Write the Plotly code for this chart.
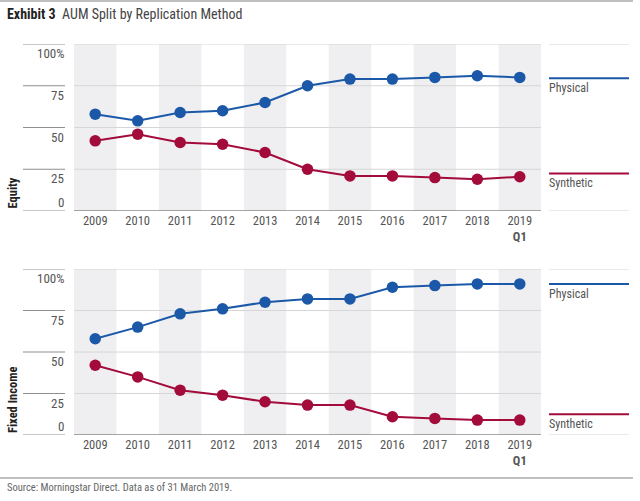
import plotly.graph_objects as go

years = ["2009", "2010", "2011", "2012", "2013", "2014", "2015", "2016", "2017", "2018", "2019"]
tick_text = ["2009", "2010", "2011", "2012", "2013", "2014", "2015", "2016", "2017", "2018", "2019<br><b>Q1</b>"]

equity_physical = [58, 54, 59, 60, 65, 75, 79, 79, 80, 81, 80]
equity_synthetic = [42, 46, 41, 40, 35, 25, 21, 21, 20, 19, 20.5]
fi_physical = [58, 65, 73, 76, 80, 82, 82, 89, 90, 91, 91]
fi_synthetic = [42, 35, 27, 24, 20, 18, 18, 11, 10, 9, 9]

y_ticks = [0, 25, 50, 75, 100]
y_tick_labels = ["0", "25", "50", "75", "100%"]

BLUE = "#1b59a8"
RED = "#a30b3b"
BAND = "#efeff1"
GRID = "#d6d6d6"
AXIS = "#8a8a8a"
TXT = "#555555"
FONT = "Roboto Condensed, Roboto, sans-serif"

W, H = 640, 501
L, R, T, B = 74, 99, 44, 66

fig = go.Figure()

panels = [
    ("y", "x", equity_physical, equity_synthetic, "Equity"),
    ("y2", "x2", fi_physical, fi_synthetic, "Fixed Income"),
]

idx = list(range(len(years)))
for yref, xref, phys, syn, name in panels:
    fig.add_trace(go.Scatter(x=idx, y=phys, mode="lines+markers", xaxis=xref, yaxis=yref,
                             line=dict(color=BLUE, width=2), marker=dict(color=BLUE, size=11.5),
                             showlegend=False, hoverinfo="skip"))
    fig.add_trace(go.Scatter(x=idx, y=syn, mode="lines+markers", xaxis=xref, yaxis=yref,
                             line=dict(color=RED, width=2), marker=dict(color=RED, size=11.5),
                             showlegend=False, hoverinfo="skip"))

shapes = []
annotations = []
plot_w = W - L - R
def px_to_paper_x(px):
    return (px - L) / plot_w

legend_y = {"y": (79.5, 22.5), "y2": (91, 12.5)}

for yref, xref, phys, syn, name in panels:
    # alternating bands
    for i in idx:
        if i % 2 == 0:
            shapes.append(dict(type="rect", xref=xref, yref=yref + " domain", x0=i - 0.5, x1=i + 0.5,
                               y0=0, y1=1, fillcolor=BAND, line_width=0, layer="below"))
    # gridlines in plot and label area
    for v in y_ticks:
        col = AXIS if v == 0 else GRID
        shapes.append(dict(type="line", xref="paper", yref=yref, x0=0, x1=1, y0=v, y1=v,
                           line=dict(color=col, width=1.3 if v == 0 else 1), layer="below"))
        shapes.append(dict(type="line", xref="paper", yref=yref, x0=px_to_paper_x(23), x1=px_to_paper_x(65),
                           y0=v, y1=v, line=dict(color="#8f8f8f", width=1.2)))
    for v, lab in zip(y_ticks, y_tick_labels):
        annotations.append(dict(xref="paper", yref=yref, x=px_to_paper_x(66), y=v, text=lab,
                                showarrow=False, xanchor="right", yanchor="middle",
                                yshift=9 if v == 0 else -9.5,
                                font=dict(family=FONT, size=13, color=TXT)))
    # legend area
    lx0, lx1 = px_to_paper_x(549), px_to_paper_x(629)
    for v in (0, 100):
        shapes.append(dict(type="line", xref="paper", yref=yref, x0=lx0, x1=lx1, y0=v, y1=v,
                           line=dict(color=GRID, width=1)))
    py, sy = legend_y[yref]
    shapes.append(dict(type="line", xref="paper", yref=yref, x0=lx0, x1=lx1, y0=py, y1=py,
                       line=dict(color=BLUE, width=2)))
    shapes.append(dict(type="line", xref="paper", yref=yref, x0=lx0, x1=lx1, y0=sy, y1=sy,
                       line=dict(color=RED, width=2)))
    for v, lab in ((py, "Physical"), (sy, "Synthetic")):
        annotations.append(dict(xref="paper", yref=yref, x=lx0, y=v, text=lab, showarrow=False,
                                xanchor="left", yanchor="top", yshift=-1, xshift=-2,
                                font=dict(family=FONT, size=12, color=TXT)))
    # panel name
    annotations.append(dict(xref="paper", yref=yref + " domain", x=px_to_paper_x(12), y=0,
                            text="<b>" + name + "</b>", showarrow=False, textangle=-90,
                            xanchor="center", yanchor="bottom",
                            font=dict(family=FONT, size=12.5, color="#222222")))

# header/footer rules
plot_h = H - T - B
def py_to_paper(py):
    return (H - B - py) / plot_h

for ypx in (1, 478):
    shapes.append(dict(type="line", xref="paper", yref="paper", x0=px_to_paper_x(0), x1=px_to_paper_x(633),
                       y0=py_to_paper(ypx), y1=py_to_paper(ypx), line=dict(color="#aaaaaa", width=1.5)))

annotations.append(dict(xref="paper", yref="paper", x=px_to_paper_x(5), y=py_to_paper(14),
                        text="<b><span style='color:#222222'>Exhibit 3</span></b>  AUM Split by Replication Method",
                        showarrow=False, xanchor="left", yanchor="middle",
                        font=dict(family=FONT, size=14, color="#444444")))
annotations.append(dict(xref="paper", yref="paper", x=px_to_paper_x(5), y=py_to_paper(487),
                        text="Source: Morningstar Direct. Data as of 31 March 2019.", showarrow=False,
                        xanchor="left", yanchor="middle",
                        font=dict(family=FONT, size=10.5, color="#666666")))

top_bottom = (H - B - 211) / plot_h
bot_top = (H - B - 269) / plot_h

xaxis_common = dict(range=[-0.5, len(years) - 0.5], tickmode="array", tickvals=idx, ticktext=tick_text,
                    showgrid=False, zeroline=False, showline=False, ticks="",
                    tickfont=dict(family=FONT, size=12.5, color=TXT), fixedrange=True)
yaxis_common = dict(range=[0, 100], showgrid=False, zeroline=False, showticklabels=False,
                    showline=False, ticks="", fixedrange=True)

fig.update_layout(
    width=W, height=H,
    margin=dict(l=L, r=R, t=T, b=B),
    plot_bgcolor="white", paper_bgcolor="white",
    xaxis=dict(**xaxis_common, anchor="y"),
    xaxis2=dict(**xaxis_common, anchor="y2"),
    yaxis=dict(**yaxis_common, domain=[top_bottom, 1], anchor="x"),
    yaxis2=dict(**yaxis_common, domain=[0, bot_top], anchor="x2"),
    shapes=shapes,
    annotations=annotations,
)

fig.write_html("out.html", config={"displayModeBar": False},
               post_script="document.body.style.margin='0';")
